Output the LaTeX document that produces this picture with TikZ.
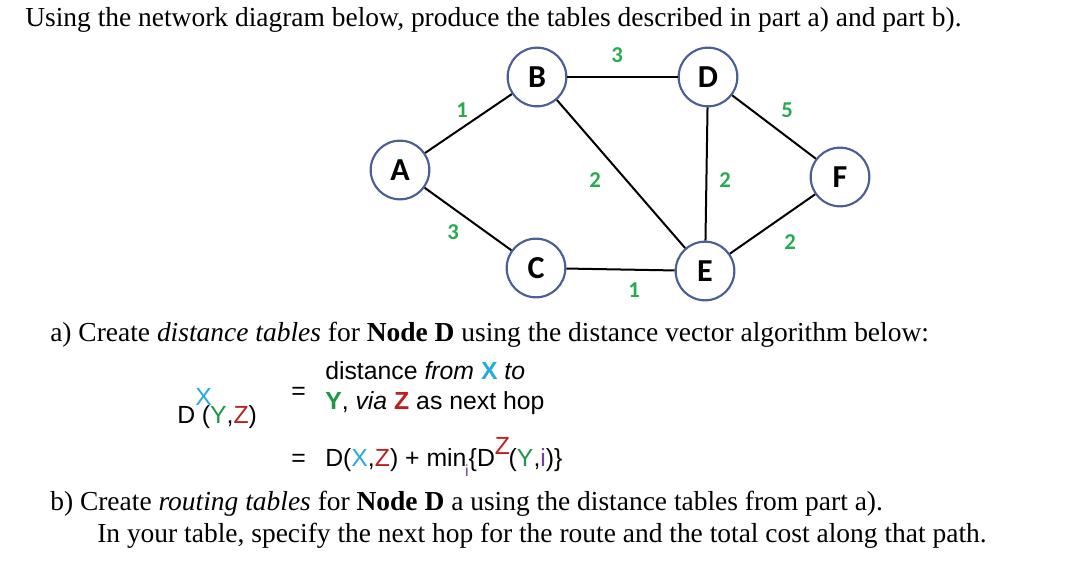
\documentclass[tikz,border=0pt]{standalone}
\usepackage{fontspec}
\setmainfont{Liberation Serif}
\newfontfamily\arialfam{Liberation Sans}
\newfontfamily\carfam{Carlito}
\definecolor{ebl}{RGB}{75,95,150}
\definecolor{egr}{RGB}{40,170,80}
\definecolor{xbl}{RGB}{40,170,220}
\definecolor{ygr}{RGB}{30,150,70}
\definecolor{zrd}{RGB}{190,30,30}
\definecolor{ipu}{RGB}{120,60,160}
\begin{document}
\begin{tikzpicture}[x=0.75pt,y=-0.75pt,
  vtx/.style={circle,draw=ebl,line width=1.6pt,minimum size=44pt,inner sep=0pt,font=\carfam\bfseries\fontsize{24}{24}\selectfont},
  edge/.style={line width=1.5pt},
  wt/.style={text=egr,font=\carfam\bfseries\fontsize{17}{17}\selectfont},
  txt/.style={anchor=base west,inner sep=0pt,font=\fontsize{20.6}{22}\selectfont},
  ar/.style={anchor=base west,inner sep=0pt,font=\arialfam\fontsize{18.6}{20}\selectfont}]
\useasboundingbox (0,0) rectangle (1079,570);
\node[vtx] (A) at (400,170) {A};
\node[vtx] (B) at (537,77) {B};
\node[vtx] (D) at (708,77) {D};
\node[vtx] (F) at (840,177) {F};
\node[vtx] (C) at (536,268) {C};
\node[vtx] (E) at (705,271) {E};
\draw[edge] (A)--(B); \draw[edge] (A)--(C); \draw[edge] (B)--(D);
\draw[edge] (B)--(E); \draw[edge] (D)--(E); \draw[edge] (D)--(F);
\draw[edge] (C)--(E); \draw[edge] (E)--(F);
\node[wt] (w1) at (462,110) {1};
\node[wt] (w2) at (617,55) {3};
\node[wt] (w3) at (787,110) {5};
\node[wt] (w4) at (595,180) {2};
\node[wt] (w5) at (725,180) {2};
\node[wt] (w6) at (453,232) {3};
\node[wt] (w7) at (790,242) {2};
\node[wt] (w8) at (634,290) {1};
\node[txt] (t0) at (25,27) {Using the network diagram below, produce the tables described in part a) and part b).};
\node[txt] (t1) at (50,342) {a) Create \textit{distance tables} for \textbf{Node D} using the distance vector algorithm below:};
\node[txt] (t2) at (50,510) {b) Create \textit{routing tables} for \textbf{Node D} a using the distance tables from part a).};
\node[txt] (t3) at (97,542) {In your table, specify the next hop for the route and the total cost along that path.};
\node[ar] (f1) at (325,380) {distance \textit{from} \textcolor{xbl}{\textbf{X}} \textit{to}};
\node[ar] (f2) at (325,410) {\textcolor{ygr}{\textbf{Y}}, \textit{via} \textcolor{zrd}{\textbf{Z}} as next hop};
\node[ar] (e1) at (291,400) {=};
\node[ar] (dl) at (177,424) {D\hspace{5pt}(\textcolor{ygr}{Y},\textcolor{zrd}{Z})};
\node[ar,text=xbl] (dx) at (195,406) {X};
\node[ar] (e2) at (291,466) {=};
\node[ar] (f3) at (325,466) {D(\textcolor{xbl}{X},\textcolor{zrd}{Z}) + min\hspace{-1pt}\raisebox{-8pt}{\textcolor{ipu}{\fontsize{12}{12}\selectfont i}}\{D\raisebox{9pt}{\textcolor{zrd}{Z}}\hspace{-1pt}(\textcolor{ygr}{Y},\textcolor{ipu}{i})\}};
\end{tikzpicture}
\end{document}
